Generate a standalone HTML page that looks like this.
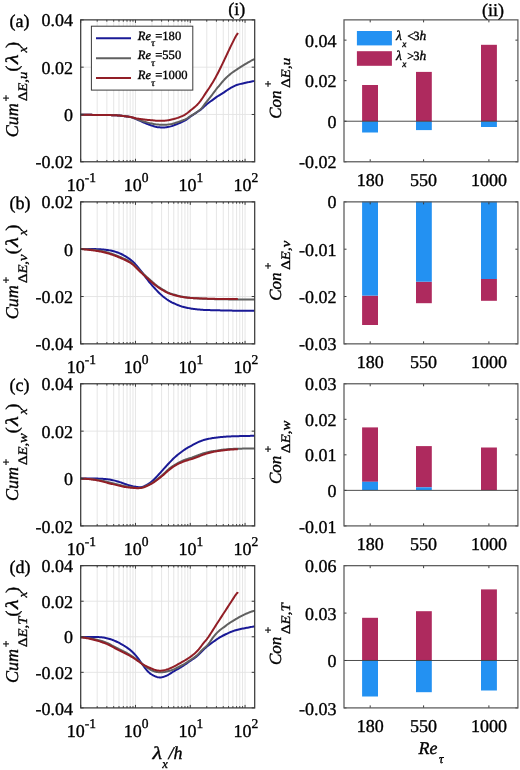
<!DOCTYPE html>
<html><head><meta charset="utf-8"><style>
html,body{margin:0;padding:0;background:#fff;}
body{width:520px;height:770px;overflow:hidden;}
svg{display:block;}
text{font-family:'Liberation Serif', 'Times New Roman', serif;stroke:#000;stroke-width:0.35px;text-rendering:geometricPrecision;}
</style></head><body>
<svg width="520" height="770" viewBox="0 0 520 770" font-family="'Liberation Serif', 'Times New Roman', serif" fill="#000">
<rect width="520" height="770" fill="#fff"/>
<path d="M97.19,19.87V161.77 M106.84,19.87V161.77 M113.68,19.87V161.77 M118.99,19.87V161.77 M123.33,19.87V161.77 M127.00,19.87V161.77 M130.18,19.87V161.77 M132.98,19.87V161.77 M135.48,19.87V161.77 M151.98,19.87V161.77 M161.62,19.87V161.77 M168.47,19.87V161.77 M173.78,19.87V161.77 M178.11,19.87V161.77 M181.78,19.87V161.77 M184.96,19.87V161.77 M187.76,19.87V161.77 M190.27,19.87V161.77 M206.76,19.87V161.77 M216.41,19.87V161.77 M223.25,19.87V161.77 M228.56,19.87V161.77 M232.90,19.87V161.77 M236.57,19.87V161.77 M239.74,19.87V161.77 M242.55,19.87V161.77 M245.05,19.87V161.77 M80.70,114.47H254.70 M80.70,67.17H254.70" stroke="#e3e3e3" stroke-width="0.9" fill="none"/>
<path d="M80.70,114.80 L81.70,114.81 L82.70,114.81 L83.70,114.81 L84.70,114.82 L85.70,114.83 L86.70,114.83 L87.70,114.84 L88.70,114.85 L89.70,114.86 L90.70,114.86 L91.70,114.87 L92.70,114.88 L93.70,114.89 L94.70,114.90 L95.70,114.91 L96.70,114.93 L97.70,114.94 L98.70,114.95 L99.70,114.96 L100.70,114.97 L101.70,114.98 L102.70,115.00 L103.70,115.01 L104.70,115.02 L105.70,115.03 L106.70,115.05 L107.70,115.06 L108.70,115.07 L109.70,115.09 L110.70,115.11 L111.70,115.13 L112.70,115.15 L113.70,115.18 L114.70,115.22 L115.70,115.26 L116.70,115.31 L117.70,115.38 L118.70,115.46 L119.70,115.55 L120.70,115.65 L121.70,115.76 L122.70,115.89 L123.70,116.03 L124.70,116.17 L125.70,116.32 L126.70,116.46 L127.70,116.60 L128.70,116.75 L129.70,116.91 L130.70,117.10 L131.70,117.35 L132.70,117.66 L133.70,118.04 L134.70,118.46 L135.70,118.91 L136.70,119.35 L137.70,119.80 L138.70,120.25 L139.70,120.70 L140.70,121.15 L141.70,121.60 L142.70,122.05 L143.70,122.50 L144.70,122.93 L145.70,123.36 L146.70,123.76 L147.70,124.16 L148.70,124.54 L149.70,124.91 L150.70,125.26 L151.70,125.60 L152.70,125.92 L153.70,126.24 L154.70,126.54 L155.70,126.81 L156.70,127.03 L157.70,127.19 L158.70,127.30 L159.70,127.37 L160.70,127.42 L161.70,127.45 L162.70,127.47 L163.70,127.46 L164.70,127.41 L165.70,127.33 L166.70,127.20 L167.70,127.04 L168.70,126.86 L169.70,126.64 L170.70,126.39 L171.70,126.10 L172.70,125.78 L173.70,125.43 L174.70,125.06 L175.70,124.67 L176.70,124.27 L177.70,123.86 L178.70,123.43 L179.70,122.98 L180.70,122.53 L181.70,122.07 L182.70,121.60 L183.70,121.12 L184.70,120.61 L185.70,120.04 L186.70,119.39 L187.70,118.65 L188.70,117.86 L189.70,117.06 L190.70,116.33 L191.70,115.67 L192.70,115.04 L193.70,114.42 L194.70,113.77 L195.70,113.09 L196.70,112.41 L197.70,111.72 L198.70,111.04 L199.70,110.35 L200.70,109.61 L201.70,108.82 L202.70,107.95 L203.70,107.03 L204.70,106.10 L205.70,105.20 L206.70,104.33 L207.70,103.51 L208.70,102.72 L209.70,101.98 L210.70,101.26 L211.70,100.56 L212.70,99.84 L213.70,99.11 L214.70,98.36 L215.70,97.62 L216.70,96.91 L217.70,96.25 L218.70,95.63 L219.70,95.03 L220.70,94.44 L221.70,93.83 L222.70,93.21 L223.70,92.56 L224.70,91.89 L225.70,91.19 L226.70,90.48 L227.70,89.79 L228.70,89.15 L229.70,88.55 L230.70,87.99 L231.70,87.46 L232.70,86.94 L233.70,86.43 L234.70,85.93 L235.70,85.45 L236.70,85.03 L237.70,84.68 L238.70,84.37 L239.70,84.11 L240.70,83.87 L241.70,83.65 L242.70,83.43 L243.70,83.22 L244.70,83.00 L245.70,82.78 L246.70,82.56 L247.70,82.34 L248.70,82.12 L249.70,81.91 L250.70,81.70 L251.70,81.49 L252.70,81.30 L253.70,81.13 L254.60,81.01" fill="none" stroke="#1a1a96" stroke-width="2.0" stroke-linejoin="round" stroke-linecap="butt"/>
<path d="M80.70,114.80 L81.70,114.81 L82.70,114.81 L83.70,114.81 L84.70,114.82 L85.70,114.83 L86.70,114.83 L87.70,114.84 L88.70,114.85 L89.70,114.86 L90.70,114.86 L91.70,114.87 L92.70,114.88 L93.70,114.89 L94.70,114.90 L95.70,114.91 L96.70,114.93 L97.70,114.94 L98.70,114.95 L99.70,114.96 L100.70,114.97 L101.70,114.98 L102.70,115.00 L103.70,115.01 L104.70,115.02 L105.70,115.03 L106.70,115.05 L107.70,115.06 L108.70,115.07 L109.70,115.09 L110.70,115.11 L111.70,115.13 L112.70,115.15 L113.70,115.18 L114.70,115.22 L115.70,115.26 L116.70,115.31 L117.70,115.38 L118.70,115.46 L119.70,115.55 L120.70,115.65 L121.70,115.76 L122.70,115.89 L123.70,116.03 L124.70,116.17 L125.70,116.32 L126.70,116.46 L127.70,116.61 L128.70,116.75 L129.70,116.91 L130.70,117.10 L131.70,117.34 L132.70,117.63 L133.70,117.98 L134.70,118.36 L135.70,118.75 L136.70,119.13 L137.70,119.50 L138.70,119.86 L139.70,120.21 L140.70,120.55 L141.70,120.88 L142.70,121.19 L143.70,121.50 L144.70,121.79 L145.70,122.07 L146.70,122.35 L147.70,122.61 L148.70,122.87 L149.70,123.11 L150.70,123.35 L151.70,123.56 L152.70,123.77 L153.70,123.96 L154.70,124.14 L155.70,124.30 L156.70,124.43 L157.70,124.54 L158.70,124.62 L159.70,124.67 L160.70,124.72 L161.70,124.75 L162.70,124.77 L163.70,124.78 L164.70,124.76 L165.70,124.72 L166.70,124.66 L167.70,124.58 L168.70,124.47 L169.70,124.34 L170.70,124.17 L171.70,123.95 L172.70,123.69 L173.70,123.41 L174.70,123.11 L175.70,122.81 L176.70,122.50 L177.70,122.19 L178.70,121.86 L179.70,121.52 L180.70,121.17 L181.70,120.81 L182.70,120.43 L183.70,120.03 L184.70,119.61 L185.70,119.14 L186.70,118.60 L187.70,118.00 L188.70,117.34 L189.70,116.67 L190.70,116.03 L191.70,115.42 L192.70,114.82 L193.70,114.21 L194.70,113.57 L195.70,112.90 L196.70,112.21 L197.70,111.50 L198.70,110.78 L199.70,110.01 L200.70,109.14 L201.70,108.11 L202.70,106.91 L203.70,105.57 L204.70,104.19 L205.70,102.83 L206.70,101.54 L207.70,100.31 L208.70,99.08 L209.70,97.84 L210.70,96.58 L211.70,95.30 L212.70,94.00 L213.70,92.67 L214.70,91.34 L215.70,90.02 L216.70,88.72 L217.70,87.48 L218.70,86.27 L219.70,85.08 L220.70,83.89 L221.70,82.69 L222.70,81.51 L223.70,80.38 L224.70,79.30 L225.70,78.27 L226.70,77.30 L227.70,76.36 L228.70,75.47 L229.70,74.62 L230.70,73.81 L231.70,73.04 L232.70,72.30 L233.70,71.60 L234.70,70.91 L235.70,70.24 L236.70,69.57 L237.70,68.90 L238.70,68.24 L239.70,67.59 L240.70,66.95 L241.70,66.31 L242.70,65.69 L243.70,65.07 L244.70,64.47 L245.70,63.87 L246.70,63.28 L247.70,62.70 L248.70,62.13 L249.70,61.56 L250.70,61.00 L251.70,60.46 L252.70,59.95 L253.70,59.51 L254.60,59.19" fill="none" stroke="#606060" stroke-width="2.0" stroke-linejoin="round" stroke-linecap="butt"/>
<path d="M80.70,114.80 L81.70,114.81 L82.70,114.81 L83.70,114.81 L84.70,114.82 L85.70,114.83 L86.70,114.83 L87.70,114.84 L88.70,114.85 L89.70,114.86 L90.70,114.86 L91.70,114.87 L92.70,114.88 L93.70,114.89 L94.70,114.90 L95.70,114.91 L96.70,114.93 L97.70,114.94 L98.70,114.95 L99.70,114.96 L100.70,114.97 L101.70,114.98 L102.70,115.00 L103.70,115.01 L104.70,115.02 L105.70,115.03 L106.70,115.05 L107.70,115.06 L108.70,115.07 L109.70,115.09 L110.70,115.11 L111.70,115.13 L112.70,115.15 L113.70,115.18 L114.70,115.22 L115.70,115.26 L116.70,115.31 L117.70,115.38 L118.70,115.46 L119.70,115.55 L120.70,115.65 L121.70,115.76 L122.70,115.89 L123.70,116.03 L124.70,116.18 L125.70,116.32 L126.70,116.46 L127.70,116.59 L128.70,116.72 L129.70,116.86 L130.70,117.03 L131.70,117.22 L132.70,117.46 L133.70,117.71 L134.70,117.97 L135.70,118.21 L136.70,118.42 L137.70,118.61 L138.70,118.77 L139.70,118.93 L140.70,119.08 L141.70,119.22 L142.70,119.35 L143.70,119.48 L144.70,119.60 L145.70,119.71 L146.70,119.81 L147.70,119.91 L148.70,120.00 L149.70,120.08 L150.70,120.17 L151.70,120.26 L152.70,120.35 L153.70,120.45 L154.70,120.55 L155.70,120.64 L156.70,120.71 L157.70,120.76 L158.70,120.79 L159.70,120.80 L160.70,120.80 L161.70,120.80 L162.70,120.79 L163.70,120.77 L164.70,120.71 L165.70,120.62 L166.70,120.49 L167.70,120.34 L168.70,120.16 L169.70,119.97 L170.70,119.77 L171.70,119.55 L172.70,119.31 L173.70,119.06 L174.70,118.78 L175.70,118.49 L176.70,118.17 L177.70,117.84 L178.70,117.48 L179.70,117.09 L180.70,116.69 L181.70,116.26 L182.70,115.80 L183.70,115.31 L184.70,114.77 L185.70,114.18 L186.70,113.52 L187.70,112.77 L188.70,111.95 L189.70,111.11 L190.70,110.28 L191.70,109.47 L192.70,108.66 L193.70,107.85 L194.70,107.01 L195.70,106.13 L196.70,105.20 L197.70,104.19 L198.70,103.08 L199.70,101.88 L200.70,100.59 L201.70,99.20 L202.70,97.72 L203.70,96.19 L204.70,94.64 L205.70,93.12 L206.70,91.64 L207.70,90.17 L208.70,88.69 L209.70,87.19 L210.70,85.64 L211.70,84.05 L212.70,82.41 L213.70,80.72 L214.70,78.97 L215.70,77.17 L216.70,75.32 L217.70,73.42 L218.70,71.47 L219.70,69.48 L220.70,67.46 L221.70,65.42 L222.70,63.35 L223.70,61.26 L224.70,59.16 L225.70,57.03 L226.70,54.88 L227.70,52.73 L228.70,50.60 L229.70,48.50 L230.70,46.42 L231.70,44.38 L232.70,42.36 L233.70,40.36 L234.70,38.40 L235.70,36.51 L236.70,34.81 L237.70,33.46 L238.00,32.97" fill="none" stroke="#921e26" stroke-width="2.0" stroke-linejoin="round" stroke-linecap="butt"/>
<path d="M80.70,161.77v-3.0 M80.70,19.87v3.0 M97.19,161.77v-1.8 M97.19,19.87v1.8 M106.84,161.77v-1.8 M106.84,19.87v1.8 M113.68,161.77v-1.8 M113.68,19.87v1.8 M118.99,161.77v-1.8 M118.99,19.87v1.8 M123.33,161.77v-1.8 M123.33,19.87v1.8 M127.00,161.77v-1.8 M127.00,19.87v1.8 M130.18,161.77v-1.8 M130.18,19.87v1.8 M132.98,161.77v-1.8 M132.98,19.87v1.8 M135.48,161.77v-3.0 M135.48,19.87v3.0 M151.98,161.77v-1.8 M151.98,19.87v1.8 M161.62,161.77v-1.8 M161.62,19.87v1.8 M168.47,161.77v-1.8 M168.47,19.87v1.8 M173.78,161.77v-1.8 M173.78,19.87v1.8 M178.11,161.77v-1.8 M178.11,19.87v1.8 M181.78,161.77v-1.8 M181.78,19.87v1.8 M184.96,161.77v-1.8 M184.96,19.87v1.8 M187.76,161.77v-1.8 M187.76,19.87v1.8 M190.27,161.77v-3.0 M190.27,19.87v3.0 M206.76,161.77v-1.8 M206.76,19.87v1.8 M216.41,161.77v-1.8 M216.41,19.87v1.8 M223.25,161.77v-1.8 M223.25,19.87v1.8 M228.56,161.77v-1.8 M228.56,19.87v1.8 M232.90,161.77v-1.8 M232.90,19.87v1.8 M236.57,161.77v-1.8 M236.57,19.87v1.8 M239.74,161.77v-1.8 M239.74,19.87v1.8 M242.55,161.77v-1.8 M242.55,19.87v1.8 M245.05,161.77v-3.0 M245.05,19.87v3.0 M80.70,161.77h3 M254.70,161.77h-3 M80.70,114.47h3 M254.70,114.47h-3 M80.70,67.17h3 M254.70,67.17h-3 M80.70,19.87h3 M254.70,19.87h-3" stroke="#3a3a3a" stroke-width="1" fill="none"/>
<rect x="80.70" y="19.87" width="174.00" height="141.90" fill="none" stroke="#3a3a3a" stroke-width="1.25"/>
<text x="73.00" y="168.37" font-size="18.0" text-anchor="end">-0.02</text>
<text x="73.00" y="121.07" font-size="18.0" text-anchor="end">0</text>
<text x="73.00" y="73.77" font-size="18.0" text-anchor="end">0.02</text>
<text x="73.00" y="26.47" font-size="18.0" text-anchor="end">0.04</text>
<text x="66.78" y="190.57" font-size="18.0" text-anchor="start">10</text>
<text x="84.78" y="181.97" font-size="13.5" text-anchor="start">-1</text>
<text x="123.81" y="190.57" font-size="18.0" text-anchor="start">10</text>
<text x="141.81" y="181.97" font-size="13.5" text-anchor="start">0</text>
<text x="178.59" y="190.57" font-size="18.0" text-anchor="start">10</text>
<text x="196.59" y="181.97" font-size="13.5" text-anchor="start">1</text>
<text x="233.38" y="190.57" font-size="18.0" text-anchor="start">10</text>
<text x="251.38" y="181.97" font-size="13.5" text-anchor="start">2</text>
<rect x="362.10" y="85.00" width="15.90" height="36.50" fill="#ae2a5e"/>
<rect x="362.10" y="121.50" width="15.90" height="11.00" fill="#2391f2"/>
<rect x="416.00" y="71.90" width="15.80" height="49.60" fill="#ae2a5e"/>
<rect x="416.00" y="121.50" width="15.80" height="8.60" fill="#2391f2"/>
<rect x="481.00" y="44.80" width="15.90" height="76.70" fill="#ae2a5e"/>
<rect x="481.00" y="121.50" width="15.90" height="5.50" fill="#2391f2"/>
<path d="M344.00,121.23H517.90" stroke="#3a3a3a" stroke-width="0.9"/>
<path d="M370.20,161.77v-2.5 M370.20,19.87v2.5 M423.60,161.77v-2.5 M423.60,19.87v2.5 M488.90,161.77v-2.5 M488.90,19.87v2.5 M344.00,161.77h2.5 M517.90,161.77h-2.5 M344.00,121.23h2.5 M517.90,121.23h-2.5 M344.00,80.68h2.5 M517.90,80.68h-2.5 M344.00,40.14h2.5 M517.90,40.14h-2.5" stroke="#3a3a3a" stroke-width="1" fill="none"/>
<rect x="344.00" y="19.87" width="173.90" height="141.90" fill="none" stroke="#5a5a5a" stroke-width="1.25"/>
<text x="336.60" y="168.37" font-size="18.0" text-anchor="end">-0.02</text>
<text x="336.60" y="127.83" font-size="18.0" text-anchor="end">0</text>
<text x="336.60" y="87.28" font-size="18.0" text-anchor="end">0.02</text>
<text x="336.60" y="46.74" font-size="18.0" text-anchor="end">0.04</text>
<text x="370.20" y="185.77" font-size="18.0" text-anchor="middle">180</text>
<text x="423.60" y="185.77" font-size="18.0" text-anchor="middle">550</text>
<text x="488.90" y="185.77" font-size="18.0" text-anchor="middle">1000</text>
<path d="M97.19,201.87V343.85 M106.84,201.87V343.85 M113.68,201.87V343.85 M118.99,201.87V343.85 M123.33,201.87V343.85 M127.00,201.87V343.85 M130.18,201.87V343.85 M132.98,201.87V343.85 M135.48,201.87V343.85 M151.98,201.87V343.85 M161.62,201.87V343.85 M168.47,201.87V343.85 M173.78,201.87V343.85 M178.11,201.87V343.85 M181.78,201.87V343.85 M184.96,201.87V343.85 M187.76,201.87V343.85 M190.27,201.87V343.85 M206.76,201.87V343.85 M216.41,201.87V343.85 M223.25,201.87V343.85 M228.56,201.87V343.85 M232.90,201.87V343.85 M236.57,201.87V343.85 M239.74,201.87V343.85 M242.55,201.87V343.85 M245.05,201.87V343.85 M80.70,296.52H254.70 M80.70,249.20H254.70" stroke="#e3e3e3" stroke-width="0.9" fill="none"/>
<path d="M80.70,249.00 L81.70,249.00 L82.70,249.00 L83.70,249.00 L84.70,249.00 L85.70,249.00 L86.70,249.00 L87.70,249.00 L88.70,249.00 L89.70,249.00 L90.70,249.00 L91.70,249.01 L92.70,249.02 L93.70,249.03 L94.70,249.06 L95.70,249.09 L96.70,249.13 L97.70,249.18 L98.70,249.23 L99.70,249.29 L100.70,249.35 L101.70,249.41 L102.70,249.48 L103.70,249.56 L104.70,249.66 L105.70,249.77 L106.70,249.90 L107.70,250.04 L108.70,250.20 L109.70,250.38 L110.70,250.57 L111.70,250.79 L112.70,251.02 L113.70,251.28 L114.70,251.56 L115.70,251.86 L116.70,252.19 L117.70,252.54 L118.70,252.92 L119.70,253.33 L120.70,253.77 L121.70,254.24 L122.70,254.74 L123.70,255.27 L124.70,255.83 L125.70,256.43 L126.70,257.05 L127.70,257.70 L128.70,258.39 L129.70,259.11 L130.70,259.88 L131.70,260.70 L132.70,261.59 L133.70,262.53 L134.70,263.54 L135.70,264.60 L136.70,265.70 L137.70,266.85 L138.70,268.04 L139.70,269.26 L140.70,270.53 L141.70,271.85 L142.70,273.21 L143.70,274.60 L144.70,276.00 L145.70,277.37 L146.70,278.71 L147.70,280.00 L148.70,281.26 L149.70,282.50 L150.70,283.70 L151.70,284.88 L152.70,286.04 L153.70,287.17 L154.70,288.29 L155.70,289.38 L156.70,290.43 L157.70,291.46 L158.70,292.46 L159.70,293.43 L160.70,294.37 L161.70,295.28 L162.70,296.15 L163.70,296.98 L164.70,297.78 L165.70,298.54 L166.70,299.27 L167.70,299.96 L168.70,300.60 L169.70,301.20 L170.70,301.76 L171.70,302.28 L172.70,302.77 L173.70,303.23 L174.70,303.68 L175.70,304.12 L176.70,304.55 L177.70,304.97 L178.70,305.37 L179.70,305.75 L180.70,306.10 L181.70,306.43 L182.70,306.73 L183.70,307.01 L184.70,307.27 L185.70,307.51 L186.70,307.74 L187.70,307.95 L188.70,308.14 L189.70,308.32 L190.70,308.49 L191.70,308.65 L192.70,308.79 L193.70,308.93 L194.70,309.06 L195.70,309.18 L196.70,309.30 L197.70,309.41 L198.70,309.52 L199.70,309.61 L200.70,309.70 L201.70,309.78 L202.70,309.84 L203.70,309.90 L204.70,309.95 L205.70,309.99 L206.70,310.03 L207.70,310.06 L208.70,310.09 L209.70,310.12 L210.70,310.15 L211.70,310.17 L212.70,310.20 L213.70,310.22 L214.70,310.25 L215.70,310.27 L216.70,310.30 L217.70,310.32 L218.70,310.35 L219.70,310.37 L220.70,310.40 L221.70,310.42 L222.70,310.45 L223.70,310.47 L224.70,310.49 L225.70,310.52 L226.70,310.54 L227.70,310.56 L228.70,310.57 L229.70,310.59 L230.70,310.60 L231.70,310.62 L232.70,310.63 L233.70,310.64 L234.70,310.65 L235.70,310.67 L236.70,310.68 L237.70,310.69 L238.70,310.70 L239.70,310.71 L240.70,310.72 L241.70,310.73 L242.70,310.74 L243.70,310.75 L244.70,310.76 L245.70,310.76 L246.70,310.77 L247.70,310.78 L248.70,310.78 L249.70,310.79 L250.70,310.79 L251.70,310.79 L252.70,310.80 L253.70,310.80 L254.60,310.80" fill="none" stroke="#1a1a96" stroke-width="2.0" stroke-linejoin="round" stroke-linecap="butt"/>
<path d="M80.70,249.00 L81.70,249.03 L82.70,249.06 L83.70,249.10 L84.70,249.14 L85.70,249.19 L86.70,249.25 L87.70,249.32 L88.70,249.39 L89.70,249.46 L90.70,249.54 L91.70,249.63 L92.70,249.73 L93.70,249.83 L94.70,249.95 L95.70,250.08 L96.70,250.22 L97.70,250.37 L98.70,250.52 L99.70,250.68 L100.70,250.85 L101.70,251.04 L102.70,251.24 L103.70,251.45 L104.70,251.69 L105.70,251.94 L106.70,252.21 L107.70,252.49 L108.70,252.79 L109.70,253.10 L110.70,253.42 L111.70,253.76 L112.70,254.11 L113.70,254.48 L114.70,254.85 L115.70,255.22 L116.70,255.61 L117.70,256.00 L118.70,256.40 L119.70,256.82 L120.70,257.23 L121.70,257.66 L122.70,258.09 L123.70,258.54 L124.70,259.00 L125.70,259.47 L126.70,259.96 L127.70,260.47 L128.70,261.00 L129.70,261.57 L130.70,262.18 L131.70,262.87 L132.70,263.65 L133.70,264.51 L134.70,265.44 L135.70,266.40 L136.70,267.39 L137.70,268.39 L138.70,269.40 L139.70,270.39 L140.70,271.37 L141.70,272.32 L142.70,273.25 L143.70,274.17 L144.70,275.08 L145.70,275.98 L146.70,276.89 L147.70,277.79 L148.70,278.70 L149.70,279.60 L150.70,280.49 L151.70,281.37 L152.70,282.23 L153.70,283.08 L154.70,283.92 L155.70,284.73 L156.70,285.51 L157.70,286.27 L158.70,286.98 L159.70,287.66 L160.70,288.31 L161.70,288.94 L162.70,289.54 L163.70,290.13 L164.70,290.70 L165.70,291.26 L166.70,291.80 L167.70,292.30 L168.70,292.77 L169.70,293.19 L170.70,293.56 L171.70,293.90 L172.70,294.22 L173.70,294.51 L174.70,294.80 L175.70,295.08 L176.70,295.36 L177.70,295.63 L178.70,295.89 L179.70,296.14 L180.70,296.37 L181.70,296.59 L182.70,296.79 L183.70,296.98 L184.70,297.15 L185.70,297.31 L186.70,297.46 L187.70,297.59 L188.70,297.71 L189.70,297.82 L190.70,297.92 L191.70,298.01 L192.70,298.09 L193.70,298.17 L194.70,298.23 L195.70,298.30 L196.70,298.36 L197.70,298.42 L198.70,298.47 L199.70,298.52 L200.70,298.57 L201.70,298.62 L202.70,298.66 L203.70,298.71 L204.70,298.75 L205.70,298.80 L206.70,298.84 L207.70,298.89 L208.70,298.93 L209.70,298.97 L210.70,299.01 L211.70,299.04 L212.70,299.08 L213.70,299.11 L214.70,299.14 L215.70,299.17 L216.70,299.19 L217.70,299.21 L218.70,299.23 L219.70,299.25 L220.70,299.27 L221.70,299.29 L222.70,299.30 L223.70,299.32 L224.70,299.33 L225.70,299.34 L226.70,299.36 L227.70,299.37 L228.70,299.38 L229.70,299.39 L230.70,299.40 L231.70,299.41 L232.70,299.42 L233.70,299.44 L234.70,299.45 L235.70,299.46 L236.70,299.47 L237.70,299.48 L238.70,299.49 L239.70,299.50 L240.70,299.50 L241.70,299.51 L242.70,299.52 L243.70,299.53 L244.70,299.54 L245.70,299.55 L246.70,299.55 L247.70,299.56 L248.70,299.57 L249.70,299.57 L250.70,299.58 L251.70,299.59 L252.70,299.59 L253.70,299.59 L254.60,299.60" fill="none" stroke="#606060" stroke-width="2.0" stroke-linejoin="round" stroke-linecap="butt"/>
<path d="M80.70,249.00 L81.70,249.12 L82.70,249.20 L83.70,249.30 L84.70,249.41 L85.70,249.52 L86.70,249.63 L87.70,249.74 L88.70,249.86 L89.70,249.98 L90.70,250.10 L91.70,250.23 L92.70,250.36 L93.70,250.49 L94.70,250.62 L95.70,250.77 L96.70,250.92 L97.70,251.08 L98.70,251.24 L99.70,251.42 L100.70,251.61 L101.70,251.81 L102.70,252.03 L103.70,252.25 L104.70,252.49 L105.70,252.74 L106.70,253.01 L107.70,253.29 L108.70,253.59 L109.70,253.90 L110.70,254.22 L111.70,254.56 L112.70,254.91 L113.70,255.28 L114.70,255.65 L115.70,256.02 L116.70,256.41 L117.70,256.80 L118.70,257.20 L119.70,257.62 L120.70,258.03 L121.70,258.46 L122.70,258.89 L123.70,259.34 L124.70,259.80 L125.70,260.27 L126.70,260.76 L127.70,261.27 L128.70,261.80 L129.70,262.37 L130.70,262.98 L131.70,263.67 L132.70,264.45 L133.70,265.31 L134.70,266.24 L135.70,267.20 L136.70,268.19 L137.70,269.19 L138.70,270.20 L139.70,271.19 L140.70,272.17 L141.70,273.12 L142.70,274.05 L143.70,274.97 L144.70,275.88 L145.70,276.78 L146.70,277.69 L147.70,278.59 L148.70,279.50 L149.70,280.40 L150.70,281.29 L151.70,282.17 L152.70,283.02 L153.70,283.86 L154.70,284.68 L155.70,285.47 L156.70,286.24 L157.70,286.97 L158.70,287.67 L159.70,288.33 L160.70,288.97 L161.70,289.58 L162.70,290.16 L163.70,290.73 L164.70,291.29 L165.70,291.83 L166.70,292.35 L167.70,292.83 L168.70,293.28 L169.70,293.68 L170.70,294.04 L171.70,294.37 L172.70,294.66 L173.70,294.94 L174.70,295.21 L175.70,295.48 L176.70,295.74 L177.70,296.00 L178.70,296.24 L179.70,296.47 L180.70,296.68 L181.70,296.87 L182.70,297.03 L183.70,297.19 L184.70,297.32 L185.70,297.45 L186.70,297.57 L187.70,297.68 L188.70,297.78 L189.70,297.87 L190.70,297.95 L191.70,298.03 L192.70,298.09 L193.70,298.14 L194.70,298.19 L195.70,298.24 L196.70,298.28 L197.70,298.31 L198.70,298.35 L199.70,298.38 L200.70,298.41 L201.70,298.44 L202.70,298.48 L203.70,298.51 L204.70,298.54 L205.70,298.58 L206.70,298.61 L207.70,298.65 L208.70,298.68 L209.70,298.72 L210.70,298.75 L211.70,298.78 L212.70,298.81 L213.70,298.84 L214.70,298.86 L215.70,298.88 L216.70,298.89 L217.70,298.91 L218.70,298.92 L219.70,298.93 L220.70,298.94 L221.70,298.95 L222.70,298.96 L223.70,298.97 L224.70,298.98 L225.70,298.98 L226.70,298.99 L227.70,298.99 L228.70,299.00 L229.70,299.00 L230.70,299.00 L231.70,299.00 L232.70,299.00 L233.70,299.00 L234.70,299.00 L235.70,299.00 L236.70,299.00 L237.70,299.00 L237.80,299.00" fill="none" stroke="#921e26" stroke-width="2.0" stroke-linejoin="round" stroke-linecap="butt"/>
<path d="M80.70,343.85v-3.0 M80.70,201.87v3.0 M97.19,343.85v-1.8 M97.19,201.87v1.8 M106.84,343.85v-1.8 M106.84,201.87v1.8 M113.68,343.85v-1.8 M113.68,201.87v1.8 M118.99,343.85v-1.8 M118.99,201.87v1.8 M123.33,343.85v-1.8 M123.33,201.87v1.8 M127.00,343.85v-1.8 M127.00,201.87v1.8 M130.18,343.85v-1.8 M130.18,201.87v1.8 M132.98,343.85v-1.8 M132.98,201.87v1.8 M135.48,343.85v-3.0 M135.48,201.87v3.0 M151.98,343.85v-1.8 M151.98,201.87v1.8 M161.62,343.85v-1.8 M161.62,201.87v1.8 M168.47,343.85v-1.8 M168.47,201.87v1.8 M173.78,343.85v-1.8 M173.78,201.87v1.8 M178.11,343.85v-1.8 M178.11,201.87v1.8 M181.78,343.85v-1.8 M181.78,201.87v1.8 M184.96,343.85v-1.8 M184.96,201.87v1.8 M187.76,343.85v-1.8 M187.76,201.87v1.8 M190.27,343.85v-3.0 M190.27,201.87v3.0 M206.76,343.85v-1.8 M206.76,201.87v1.8 M216.41,343.85v-1.8 M216.41,201.87v1.8 M223.25,343.85v-1.8 M223.25,201.87v1.8 M228.56,343.85v-1.8 M228.56,201.87v1.8 M232.90,343.85v-1.8 M232.90,201.87v1.8 M236.57,343.85v-1.8 M236.57,201.87v1.8 M239.74,343.85v-1.8 M239.74,201.87v1.8 M242.55,343.85v-1.8 M242.55,201.87v1.8 M245.05,343.85v-3.0 M245.05,201.87v3.0 M80.70,343.85h3 M254.70,343.85h-3 M80.70,296.52h3 M254.70,296.52h-3 M80.70,249.20h3 M254.70,249.20h-3 M80.70,201.87h3 M254.70,201.87h-3" stroke="#3a3a3a" stroke-width="1" fill="none"/>
<rect x="80.70" y="201.87" width="174.00" height="141.98" fill="none" stroke="#3a3a3a" stroke-width="1.25"/>
<text x="73.00" y="350.45" font-size="18.0" text-anchor="end">-0.04</text>
<text x="73.00" y="303.12" font-size="18.0" text-anchor="end">-0.02</text>
<text x="73.00" y="255.80" font-size="18.0" text-anchor="end">0</text>
<text x="73.00" y="208.47" font-size="18.0" text-anchor="end">0.02</text>
<text x="66.78" y="372.65" font-size="18.0" text-anchor="start">10</text>
<text x="84.78" y="364.05" font-size="13.5" text-anchor="start">-1</text>
<text x="123.81" y="372.65" font-size="18.0" text-anchor="start">10</text>
<text x="141.81" y="364.05" font-size="13.5" text-anchor="start">0</text>
<text x="178.59" y="372.65" font-size="18.0" text-anchor="start">10</text>
<text x="196.59" y="364.05" font-size="13.5" text-anchor="start">1</text>
<text x="233.38" y="372.65" font-size="18.0" text-anchor="start">10</text>
<text x="251.38" y="364.05" font-size="13.5" text-anchor="start">2</text>
<rect x="362.10" y="295.60" width="15.90" height="29.40" fill="#ae2a5e"/>
<rect x="362.10" y="201.50" width="15.90" height="94.10" fill="#2391f2"/>
<rect x="416.00" y="281.70" width="15.80" height="21.50" fill="#ae2a5e"/>
<rect x="416.00" y="201.50" width="15.80" height="80.20" fill="#2391f2"/>
<rect x="481.00" y="279.00" width="15.90" height="21.80" fill="#ae2a5e"/>
<rect x="481.00" y="201.50" width="15.90" height="77.50" fill="#2391f2"/>
<path d="M370.20,343.85v-2.5 M370.20,201.87v2.5 M423.60,343.85v-2.5 M423.60,201.87v2.5 M488.90,343.85v-2.5 M488.90,201.87v2.5 M344.00,343.85h2.5 M517.90,343.85h-2.5 M344.00,296.52h2.5 M517.90,296.52h-2.5 M344.00,249.20h2.5 M517.90,249.20h-2.5 M344.00,201.87h2.5 M517.90,201.87h-2.5" stroke="#3a3a3a" stroke-width="1" fill="none"/>
<rect x="344.00" y="201.87" width="173.90" height="141.98" fill="none" stroke="#5a5a5a" stroke-width="1.25"/>
<text x="336.60" y="350.45" font-size="18.0" text-anchor="end">-0.03</text>
<text x="336.60" y="303.12" font-size="18.0" text-anchor="end">-0.02</text>
<text x="336.60" y="255.80" font-size="18.0" text-anchor="end">-0.01</text>
<text x="336.60" y="208.47" font-size="18.0" text-anchor="end">0</text>
<text x="370.20" y="367.85" font-size="18.0" text-anchor="middle">180</text>
<text x="423.60" y="367.85" font-size="18.0" text-anchor="middle">550</text>
<text x="488.90" y="367.85" font-size="18.0" text-anchor="middle">1000</text>
<path d="M97.19,383.77V525.90 M106.84,383.77V525.90 M113.68,383.77V525.90 M118.99,383.77V525.90 M123.33,383.77V525.90 M127.00,383.77V525.90 M130.18,383.77V525.90 M132.98,383.77V525.90 M135.48,383.77V525.90 M151.98,383.77V525.90 M161.62,383.77V525.90 M168.47,383.77V525.90 M173.78,383.77V525.90 M178.11,383.77V525.90 M181.78,383.77V525.90 M184.96,383.77V525.90 M187.76,383.77V525.90 M190.27,383.77V525.90 M206.76,383.77V525.90 M216.41,383.77V525.90 M223.25,383.77V525.90 M228.56,383.77V525.90 M232.90,383.77V525.90 M236.57,383.77V525.90 M239.74,383.77V525.90 M242.55,383.77V525.90 M245.05,383.77V525.90 M80.70,478.52H254.70 M80.70,431.15H254.70" stroke="#e3e3e3" stroke-width="0.9" fill="none"/>
<path d="M80.70,478.60 L81.70,478.60 L82.70,478.60 L83.70,478.60 L84.70,478.60 L85.70,478.60 L86.70,478.60 L87.70,478.60 L88.70,478.60 L89.70,478.60 L90.70,478.60 L91.70,478.60 L92.70,478.60 L93.70,478.60 L94.70,478.60 L95.70,478.60 L96.70,478.60 L97.70,478.61 L98.70,478.63 L99.70,478.66 L100.70,478.70 L101.70,478.76 L102.70,478.83 L103.70,478.90 L104.70,478.99 L105.70,479.08 L106.70,479.18 L107.70,479.29 L108.70,479.41 L109.70,479.56 L110.70,479.73 L111.70,479.93 L112.70,480.15 L113.70,480.39 L114.70,480.64 L115.70,480.90 L116.70,481.18 L117.70,481.47 L118.70,481.77 L119.70,482.09 L120.70,482.42 L121.70,482.77 L122.70,483.13 L123.70,483.50 L124.70,483.86 L125.70,484.21 L126.70,484.54 L127.70,484.84 L128.70,485.14 L129.70,485.42 L130.70,485.68 L131.70,485.94 L132.70,486.19 L133.70,486.41 L134.70,486.61 L135.70,486.78 L136.70,486.93 L137.70,487.05 L138.70,487.15 L139.70,487.20 L140.70,487.17 L141.70,487.03 L142.70,486.77 L143.70,486.39 L144.70,485.93 L145.70,485.41 L146.70,484.86 L147.70,484.27 L148.70,483.64 L149.70,482.95 L150.70,482.22 L151.70,481.43 L152.70,480.59 L153.70,479.69 L154.70,478.73 L155.70,477.72 L156.70,476.68 L157.70,475.61 L158.70,474.53 L159.70,473.43 L160.70,472.31 L161.70,471.18 L162.70,470.05 L163.70,468.93 L164.70,467.81 L165.70,466.71 L166.70,465.62 L167.70,464.53 L168.70,463.46 L169.70,462.41 L170.70,461.36 L171.70,460.33 L172.70,459.32 L173.70,458.33 L174.70,457.39 L175.70,456.49 L176.70,455.63 L177.70,454.80 L178.70,454.01 L179.70,453.24 L180.70,452.48 L181.70,451.73 L182.70,451.00 L183.70,450.28 L184.70,449.58 L185.70,448.91 L186.70,448.27 L187.70,447.67 L188.70,447.11 L189.70,446.57 L190.70,446.04 L191.70,445.51 L192.70,444.98 L193.70,444.43 L194.70,443.88 L195.70,443.35 L196.70,442.84 L197.70,442.37 L198.70,441.92 L199.70,441.50 L200.70,441.10 L201.70,440.73 L202.70,440.38 L203.70,440.07 L204.70,439.78 L205.70,439.51 L206.70,439.26 L207.70,439.03 L208.70,438.81 L209.70,438.61 L210.70,438.42 L211.70,438.25 L212.70,438.09 L213.70,437.94 L214.70,437.79 L215.70,437.66 L216.70,437.53 L217.70,437.41 L218.70,437.29 L219.70,437.18 L220.70,437.07 L221.70,436.97 L222.70,436.88 L223.70,436.80 L224.70,436.73 L225.70,436.66 L226.70,436.59 L227.70,436.54 L228.70,436.48 L229.70,436.44 L230.70,436.39 L231.70,436.35 L232.70,436.31 L233.70,436.28 L234.70,436.24 L235.70,436.21 L236.70,436.18 L237.70,436.15 L238.70,436.13 L239.70,436.10 L240.70,436.07 L241.70,436.05 L242.70,436.03 L243.70,436.00 L244.70,435.98 L245.70,435.96 L246.70,435.94 L247.70,435.92 L248.70,435.90 L249.70,435.88 L250.70,435.86 L251.70,435.84 L252.70,435.83 L253.70,435.82 L254.60,435.81" fill="none" stroke="#1a1a96" stroke-width="2.0" stroke-linejoin="round" stroke-linecap="butt"/>
<path d="M80.70,478.60 L81.70,478.62 L82.70,478.64 L83.70,478.67 L84.70,478.70 L85.70,478.75 L86.70,478.81 L87.70,478.88 L88.70,478.95 L89.70,479.03 L90.70,479.12 L91.70,479.21 L92.70,479.31 L93.70,479.41 L94.70,479.52 L95.70,479.63 L96.70,479.74 L97.70,479.87 L98.70,480.02 L99.70,480.18 L100.70,480.37 L101.70,480.58 L102.70,480.81 L103.70,481.04 L104.70,481.29 L105.70,481.54 L106.70,481.78 L107.70,482.03 L108.70,482.28 L109.70,482.52 L110.70,482.77 L111.70,483.02 L112.70,483.28 L113.70,483.54 L114.70,483.80 L115.70,484.06 L116.70,484.31 L117.70,484.56 L118.70,484.80 L119.70,485.03 L120.70,485.26 L121.70,485.48 L122.70,485.69 L123.70,485.90 L124.70,486.11 L125.70,486.31 L126.70,486.51 L127.70,486.70 L128.70,486.88 L129.70,487.05 L130.70,487.21 L131.70,487.37 L132.70,487.52 L133.70,487.66 L134.70,487.79 L135.70,487.89 L136.70,487.94 L137.70,487.97 L138.70,487.95 L139.70,487.91 L140.70,487.81 L141.70,487.64 L142.70,487.38 L143.70,487.03 L144.70,486.61 L145.70,486.17 L146.70,485.71 L147.70,485.24 L148.70,484.75 L149.70,484.24 L150.70,483.69 L151.70,483.12 L152.70,482.50 L153.70,481.85 L154.70,481.15 L155.70,480.43 L156.70,479.67 L157.70,478.90 L158.70,478.11 L159.70,477.30 L160.70,476.47 L161.70,475.62 L162.70,474.75 L163.70,473.85 L164.70,472.91 L165.70,471.96 L166.70,470.99 L167.70,470.04 L168.70,469.14 L169.70,468.31 L170.70,467.55 L171.70,466.84 L172.70,466.18 L173.70,465.54 L174.70,464.93 L175.70,464.33 L176.70,463.74 L177.70,463.16 L178.70,462.60 L179.70,462.07 L180.70,461.58 L181.70,461.11 L182.70,460.68 L183.70,460.28 L184.70,459.90 L185.70,459.53 L186.70,459.19 L187.70,458.86 L188.70,458.54 L189.70,458.23 L190.70,457.93 L191.70,457.61 L192.70,457.26 L193.70,456.89 L194.70,456.50 L195.70,456.11 L196.70,455.71 L197.70,455.33 L198.70,454.95 L199.70,454.59 L200.70,454.23 L201.70,453.89 L202.70,453.57 L203.70,453.26 L204.70,452.96 L205.70,452.68 L206.70,452.42 L207.70,452.17 L208.70,451.93 L209.70,451.72 L210.70,451.53 L211.70,451.36 L212.70,451.20 L213.70,451.05 L214.70,450.91 L215.70,450.77 L216.70,450.62 L217.70,450.47 L218.70,450.32 L219.70,450.16 L220.70,450.01 L221.70,449.86 L222.70,449.72 L223.70,449.60 L224.70,449.49 L225.70,449.38 L226.70,449.28 L227.70,449.20 L228.70,449.12 L229.70,449.05 L230.70,449.00 L231.70,448.95 L232.70,448.91 L233.70,448.87 L234.70,448.83 L235.70,448.80 L236.70,448.77 L237.70,448.74 L238.70,448.72 L239.70,448.69 L240.70,448.67 L241.70,448.65 L242.70,448.62 L243.70,448.60 L244.70,448.58 L245.70,448.56 L246.70,448.54 L247.70,448.52 L248.70,448.50 L249.70,448.48 L250.70,448.46 L251.70,448.44 L252.70,448.43 L253.70,448.42 L254.60,448.41" fill="none" stroke="#606060" stroke-width="2.0" stroke-linejoin="round" stroke-linecap="butt"/>
<path d="M80.70,478.60 L81.70,478.64 L82.70,478.68 L83.70,478.73 L84.70,478.80 L85.70,478.87 L86.70,478.95 L87.70,479.03 L88.70,479.12 L89.70,479.22 L90.70,479.32 L91.70,479.44 L92.70,479.56 L93.70,479.70 L94.70,479.85 L95.70,480.02 L96.70,480.20 L97.70,480.40 L98.70,480.61 L99.70,480.85 L100.70,481.09 L101.70,481.34 L102.70,481.60 L103.70,481.86 L104.70,482.12 L105.70,482.38 L106.70,482.65 L107.70,482.91 L108.70,483.17 L109.70,483.42 L110.70,483.66 L111.70,483.91 L112.70,484.15 L113.70,484.39 L114.70,484.63 L115.70,484.87 L116.70,485.12 L117.70,485.36 L118.70,485.60 L119.70,485.83 L120.70,486.07 L121.70,486.29 L122.70,486.52 L123.70,486.73 L124.70,486.92 L125.70,487.09 L126.70,487.25 L127.70,487.38 L128.70,487.49 L129.70,487.60 L130.70,487.69 L131.70,487.78 L132.70,487.87 L133.70,487.96 L134.70,488.04 L135.70,488.10 L136.70,488.15 L137.70,488.17 L138.70,488.16 L139.70,488.12 L140.70,488.03 L141.70,487.87 L142.70,487.63 L143.70,487.31 L144.70,486.94 L145.70,486.53 L146.70,486.10 L147.70,485.66 L148.70,485.19 L149.70,484.70 L150.70,484.17 L151.70,483.61 L152.70,483.01 L153.70,482.37 L154.70,481.69 L155.70,480.98 L156.70,480.24 L157.70,479.49 L158.70,478.73 L159.70,477.95 L160.70,477.15 L161.70,476.34 L162.70,475.51 L163.70,474.65 L164.70,473.77 L165.70,472.87 L166.70,471.96 L167.70,471.07 L168.70,470.20 L169.70,469.38 L170.70,468.60 L171.70,467.86 L172.70,467.16 L173.70,466.49 L174.70,465.86 L175.70,465.26 L176.70,464.70 L177.70,464.17 L178.70,463.67 L179.70,463.19 L180.70,462.74 L181.70,462.31 L182.70,461.91 L183.70,461.52 L184.70,461.16 L185.70,460.81 L186.70,460.49 L187.70,460.19 L188.70,459.90 L189.70,459.63 L190.70,459.36 L191.70,459.07 L192.70,458.76 L193.70,458.42 L194.70,458.06 L195.70,457.68 L196.70,457.29 L197.70,456.89 L198.70,456.49 L199.70,456.08 L200.70,455.68 L201.70,455.29 L202.70,454.91 L203.70,454.55 L204.70,454.21 L205.70,453.89 L206.70,453.58 L207.70,453.29 L208.70,453.01 L209.70,452.74 L210.70,452.49 L211.70,452.25 L212.70,452.03 L213.70,451.81 L214.70,451.61 L215.70,451.42 L216.70,451.25 L217.70,451.09 L218.70,450.93 L219.70,450.79 L220.70,450.66 L221.70,450.53 L222.70,450.41 L223.70,450.29 L224.70,450.17 L225.70,450.06 L226.70,449.95 L227.70,449.85 L228.70,449.75 L229.70,449.66 L230.70,449.59 L231.70,449.52 L232.70,449.45 L233.70,449.39 L234.70,449.34 L235.70,449.29 L236.70,449.25 L237.70,449.22 L237.80,449.22" fill="none" stroke="#921e26" stroke-width="2.0" stroke-linejoin="round" stroke-linecap="butt"/>
<path d="M80.70,525.90v-3.0 M80.70,383.77v3.0 M97.19,525.90v-1.8 M97.19,383.77v1.8 M106.84,525.90v-1.8 M106.84,383.77v1.8 M113.68,525.90v-1.8 M113.68,383.77v1.8 M118.99,525.90v-1.8 M118.99,383.77v1.8 M123.33,525.90v-1.8 M123.33,383.77v1.8 M127.00,525.90v-1.8 M127.00,383.77v1.8 M130.18,525.90v-1.8 M130.18,383.77v1.8 M132.98,525.90v-1.8 M132.98,383.77v1.8 M135.48,525.90v-3.0 M135.48,383.77v3.0 M151.98,525.90v-1.8 M151.98,383.77v1.8 M161.62,525.90v-1.8 M161.62,383.77v1.8 M168.47,525.90v-1.8 M168.47,383.77v1.8 M173.78,525.90v-1.8 M173.78,383.77v1.8 M178.11,525.90v-1.8 M178.11,383.77v1.8 M181.78,525.90v-1.8 M181.78,383.77v1.8 M184.96,525.90v-1.8 M184.96,383.77v1.8 M187.76,525.90v-1.8 M187.76,383.77v1.8 M190.27,525.90v-3.0 M190.27,383.77v3.0 M206.76,525.90v-1.8 M206.76,383.77v1.8 M216.41,525.90v-1.8 M216.41,383.77v1.8 M223.25,525.90v-1.8 M223.25,383.77v1.8 M228.56,525.90v-1.8 M228.56,383.77v1.8 M232.90,525.90v-1.8 M232.90,383.77v1.8 M236.57,525.90v-1.8 M236.57,383.77v1.8 M239.74,525.90v-1.8 M239.74,383.77v1.8 M242.55,525.90v-1.8 M242.55,383.77v1.8 M245.05,525.90v-3.0 M245.05,383.77v3.0 M80.70,525.90h3 M254.70,525.90h-3 M80.70,478.52h3 M254.70,478.52h-3 M80.70,431.15h3 M254.70,431.15h-3 M80.70,383.77h3 M254.70,383.77h-3" stroke="#3a3a3a" stroke-width="1" fill="none"/>
<rect x="80.70" y="383.77" width="174.00" height="142.13" fill="none" stroke="#3a3a3a" stroke-width="1.25"/>
<text x="73.00" y="532.50" font-size="18.0" text-anchor="end">-0.02</text>
<text x="73.00" y="485.12" font-size="18.0" text-anchor="end">0</text>
<text x="73.00" y="437.75" font-size="18.0" text-anchor="end">0.02</text>
<text x="73.00" y="390.37" font-size="18.0" text-anchor="end">0.04</text>
<text x="66.78" y="554.70" font-size="18.0" text-anchor="start">10</text>
<text x="84.78" y="546.10" font-size="13.5" text-anchor="start">-1</text>
<text x="123.81" y="554.70" font-size="18.0" text-anchor="start">10</text>
<text x="141.81" y="546.10" font-size="13.5" text-anchor="start">0</text>
<text x="178.59" y="554.70" font-size="18.0" text-anchor="start">10</text>
<text x="196.59" y="546.10" font-size="13.5" text-anchor="start">1</text>
<text x="233.38" y="554.70" font-size="18.0" text-anchor="start">10</text>
<text x="251.38" y="546.10" font-size="13.5" text-anchor="start">2</text>
<rect x="362.10" y="427.40" width="15.90" height="54.40" fill="#ae2a5e"/>
<rect x="362.10" y="481.80" width="15.90" height="8.30" fill="#2391f2"/>
<rect x="416.00" y="446.10" width="15.80" height="41.20" fill="#ae2a5e"/>
<rect x="416.00" y="487.30" width="15.80" height="2.80" fill="#2391f2"/>
<rect x="481.00" y="447.50" width="15.90" height="42.60" fill="#ae2a5e"/>
<path d="M344.00,490.37H517.90" stroke="#3a3a3a" stroke-width="0.9"/>
<path d="M370.20,525.90v-2.5 M370.20,383.77v2.5 M423.60,525.90v-2.5 M423.60,383.77v2.5 M488.90,525.90v-2.5 M488.90,383.77v2.5 M344.00,525.90h2.5 M517.90,525.90h-2.5 M344.00,490.37h2.5 M517.90,490.37h-2.5 M344.00,454.83h2.5 M517.90,454.83h-2.5 M344.00,419.30h2.5 M517.90,419.30h-2.5 M344.00,383.77h2.5 M517.90,383.77h-2.5" stroke="#3a3a3a" stroke-width="1" fill="none"/>
<rect x="344.00" y="383.77" width="173.90" height="142.13" fill="none" stroke="#5a5a5a" stroke-width="1.25"/>
<text x="336.60" y="532.50" font-size="18.0" text-anchor="end">-0.01</text>
<text x="336.60" y="496.97" font-size="18.0" text-anchor="end">0</text>
<text x="336.60" y="461.44" font-size="18.0" text-anchor="end">0.01</text>
<text x="336.60" y="425.90" font-size="18.0" text-anchor="end">0.02</text>
<text x="336.60" y="390.37" font-size="18.0" text-anchor="end">0.03</text>
<text x="370.20" y="549.90" font-size="18.0" text-anchor="middle">180</text>
<text x="423.60" y="549.90" font-size="18.0" text-anchor="middle">550</text>
<text x="488.90" y="549.90" font-size="18.0" text-anchor="middle">1000</text>
<path d="M97.19,565.67V707.90 M106.84,565.67V707.90 M113.68,565.67V707.90 M118.99,565.67V707.90 M123.33,565.67V707.90 M127.00,565.67V707.90 M130.18,565.67V707.90 M132.98,565.67V707.90 M135.48,565.67V707.90 M151.98,565.67V707.90 M161.62,565.67V707.90 M168.47,565.67V707.90 M173.78,565.67V707.90 M178.11,565.67V707.90 M181.78,565.67V707.90 M184.96,565.67V707.90 M187.76,565.67V707.90 M190.27,565.67V707.90 M206.76,565.67V707.90 M216.41,565.67V707.90 M223.25,565.67V707.90 M228.56,565.67V707.90 M232.90,565.67V707.90 M236.57,565.67V707.90 M239.74,565.67V707.90 M242.55,565.67V707.90 M245.05,565.67V707.90 M80.70,672.34H254.70 M80.70,636.78H254.70 M80.70,601.23H254.70" stroke="#e3e3e3" stroke-width="0.9" fill="none"/>
<path d="M80.70,637.00 L81.70,637.00 L82.70,637.00 L83.70,637.00 L84.70,637.00 L85.70,637.00 L86.70,637.00 L87.70,637.00 L88.70,637.00 L89.70,637.00 L90.70,637.00 L91.70,637.00 L92.70,637.00 L93.70,637.00 L94.70,637.00 L95.70,637.00 L96.70,637.01 L97.70,637.03 L98.70,637.07 L99.70,637.13 L100.70,637.21 L101.70,637.32 L102.70,637.44 L103.70,637.59 L104.70,637.77 L105.70,637.96 L106.70,638.17 L107.70,638.41 L108.70,638.67 L109.70,638.96 L110.70,639.28 L111.70,639.62 L112.70,639.98 L113.70,640.38 L114.70,640.80 L115.70,641.25 L116.70,641.73 L117.70,642.21 L118.70,642.72 L119.70,643.23 L120.70,643.77 L121.70,644.33 L122.70,644.90 L123.70,645.50 L124.70,646.12 L125.70,646.75 L126.70,647.41 L127.70,648.10 L128.70,648.82 L129.70,649.58 L130.70,650.39 L131.70,651.26 L132.70,652.20 L133.70,653.21 L134.70,654.29 L135.70,655.43 L136.70,656.63 L137.70,657.88 L138.70,659.20 L139.70,660.57 L140.70,661.97 L141.70,663.40 L142.70,664.81 L143.70,666.20 L144.70,667.55 L145.70,668.85 L146.70,670.08 L147.70,671.22 L148.70,672.23 L149.70,673.10 L150.70,673.85 L151.70,674.50 L152.70,675.09 L153.70,675.63 L154.70,676.12 L155.70,676.54 L156.70,676.90 L157.70,677.19 L158.70,677.37 L159.70,677.44 L160.70,677.40 L161.70,677.25 L162.70,677.04 L163.70,676.75 L164.70,676.40 L165.70,676.00 L166.70,675.55 L167.70,675.05 L168.70,674.51 L169.70,673.92 L170.70,673.29 L171.70,672.64 L172.70,671.99 L173.70,671.38 L174.70,670.79 L175.70,670.23 L176.70,669.68 L177.70,669.12 L178.70,668.54 L179.70,667.95 L180.70,667.34 L181.70,666.73 L182.70,666.10 L183.70,665.44 L184.70,664.78 L185.70,664.09 L186.70,663.39 L187.70,662.68 L188.70,661.97 L189.70,661.27 L190.70,660.58 L191.70,659.91 L192.70,659.25 L193.70,658.58 L194.70,657.89 L195.70,657.16 L196.70,656.37 L197.70,655.50 L198.70,654.56 L199.70,653.55 L200.70,652.51 L201.70,651.46 L202.70,650.44 L203.70,649.46 L204.70,648.52 L205.70,647.63 L206.70,646.77 L207.70,645.95 L208.70,645.17 L209.70,644.40 L210.70,643.66 L211.70,642.94 L212.70,642.23 L213.70,641.52 L214.70,640.82 L215.70,640.12 L216.70,639.43 L217.70,638.75 L218.70,638.09 L219.70,637.45 L220.70,636.85 L221.70,636.28 L222.70,635.75 L223.70,635.24 L224.70,634.75 L225.70,634.27 L226.70,633.79 L227.70,633.32 L228.70,632.86 L229.70,632.42 L230.70,631.99 L231.70,631.59 L232.70,631.22 L233.70,630.88 L234.70,630.56 L235.70,630.26 L236.70,629.98 L237.70,629.71 L238.70,629.46 L239.70,629.23 L240.70,629.00 L241.70,628.80 L242.70,628.60 L243.70,628.41 L244.70,628.22 L245.70,628.03 L246.70,627.84 L247.70,627.65 L248.70,627.45 L249.70,627.26 L250.70,627.07 L251.70,626.88 L252.70,626.69 L253.70,626.53 L254.70,626.41" fill="none" stroke="#1a1a96" stroke-width="2.0" stroke-linejoin="round" stroke-linecap="butt"/>
<path d="M80.70,637.10 L81.70,637.22 L82.70,637.30 L83.70,637.41 L84.70,637.53 L85.70,637.65 L86.70,637.79 L87.70,637.93 L88.70,638.09 L89.70,638.25 L90.70,638.42 L91.70,638.61 L92.70,638.81 L93.70,639.02 L94.70,639.23 L95.70,639.46 L96.70,639.69 L97.70,639.92 L98.70,640.17 L99.70,640.42 L100.70,640.70 L101.70,640.99 L102.70,641.31 L103.70,641.65 L104.70,642.02 L105.70,642.41 L106.70,642.82 L107.70,643.27 L108.70,643.75 L109.70,644.25 L110.70,644.76 L111.70,645.29 L112.70,645.82 L113.70,646.35 L114.70,646.89 L115.70,647.42 L116.70,647.95 L117.70,648.47 L118.70,648.98 L119.70,649.46 L120.70,649.94 L121.70,650.40 L122.70,650.87 L123.70,651.36 L124.70,651.86 L125.70,652.38 L126.70,652.94 L127.70,653.52 L128.70,654.13 L129.70,654.75 L130.70,655.39 L131.70,656.04 L132.70,656.70 L133.70,657.37 L134.70,658.06 L135.70,658.76 L136.70,659.48 L137.70,660.23 L138.70,661.00 L139.70,661.79 L140.70,662.60 L141.70,663.43 L142.70,664.28 L143.70,665.13 L144.70,665.95 L145.70,666.71 L146.70,667.41 L147.70,668.06 L148.70,668.67 L149.70,669.25 L150.70,669.79 L151.70,670.29 L152.70,670.75 L153.70,671.16 L154.70,671.50 L155.70,671.77 L156.70,671.95 L157.70,672.07 L158.70,672.15 L159.70,672.21 L160.70,672.25 L161.70,672.25 L162.70,672.21 L163.70,672.12 L164.70,671.97 L165.70,671.77 L166.70,671.54 L167.70,671.29 L168.70,671.02 L169.70,670.74 L170.70,670.43 L171.70,670.09 L172.70,669.73 L173.70,669.34 L174.70,668.92 L175.70,668.47 L176.70,667.99 L177.70,667.51 L178.70,667.02 L179.70,666.51 L180.70,666.00 L181.70,665.47 L182.70,664.92 L183.70,664.36 L184.70,663.76 L185.70,663.15 L186.70,662.51 L187.70,661.86 L188.70,661.20 L189.70,660.54 L190.70,659.87 L191.70,659.21 L192.70,658.54 L193.70,657.86 L194.70,657.15 L195.70,656.39 L196.70,655.57 L197.70,654.66 L198.70,653.68 L199.70,652.63 L200.70,651.55 L201.70,650.48 L202.70,649.47 L203.70,648.53 L204.70,647.66 L205.70,646.80 L206.70,645.88 L207.70,644.83 L208.70,643.62 L209.70,642.27 L210.70,640.83 L211.70,639.36 L212.70,637.93 L213.70,636.59 L214.70,635.35 L215.70,634.21 L216.70,633.14 L217.70,632.14 L218.70,631.20 L219.70,630.33 L220.70,629.51 L221.70,628.75 L222.70,628.02 L223.70,627.31 L224.70,626.58 L225.70,625.83 L226.70,625.07 L227.70,624.31 L228.70,623.59 L229.70,622.91 L230.70,622.27 L231.70,621.64 L232.70,621.03 L233.70,620.41 L234.70,619.80 L235.70,619.19 L236.70,618.60 L237.70,618.02 L238.70,617.45 L239.70,616.90 L240.70,616.37 L241.70,615.85 L242.70,615.34 L243.70,614.85 L244.70,614.38 L245.70,613.93 L246.70,613.49 L247.70,613.07 L248.70,612.66 L249.70,612.27 L250.70,611.89 L251.70,611.53 L252.70,611.19 L253.70,610.90 L254.70,610.69" fill="none" stroke="#606060" stroke-width="2.0" stroke-linejoin="round" stroke-linecap="butt"/>
<path d="M80.70,637.30 L81.70,637.46 L82.70,637.57 L83.70,637.71 L84.70,637.86 L85.70,638.02 L86.70,638.19 L87.70,638.37 L88.70,638.56 L89.70,638.75 L90.70,638.96 L91.70,639.18 L92.70,639.41 L93.70,639.66 L94.70,639.92 L95.70,640.19 L96.70,640.47 L97.70,640.78 L98.70,641.09 L99.70,641.42 L100.70,641.76 L101.70,642.10 L102.70,642.44 L103.70,642.78 L104.70,643.14 L105.70,643.52 L106.70,643.93 L107.70,644.37 L108.70,644.84 L109.70,645.34 L110.70,645.86 L111.70,646.39 L112.70,646.93 L113.70,647.47 L114.70,648.02 L115.70,648.58 L116.70,649.13 L117.70,649.67 L118.70,650.19 L119.70,650.70 L120.70,651.20 L121.70,651.69 L122.70,652.18 L123.70,652.66 L124.70,653.16 L125.70,653.66 L126.70,654.16 L127.70,654.67 L128.70,655.19 L129.70,655.72 L130.70,656.27 L131.70,656.85 L132.70,657.46 L133.70,658.09 L134.70,658.74 L135.70,659.42 L136.70,660.11 L137.70,660.82 L138.70,661.55 L139.70,662.29 L140.70,663.03 L141.70,663.73 L142.70,664.38 L143.70,664.96 L144.70,665.49 L145.70,665.97 L146.70,666.43 L147.70,666.88 L148.70,667.32 L149.70,667.77 L150.70,668.21 L151.70,668.64 L152.70,669.05 L153.70,669.43 L154.70,669.76 L155.70,670.04 L156.70,670.27 L157.70,670.44 L158.70,670.56 L159.70,670.63 L160.70,670.63 L161.70,670.59 L162.70,670.49 L163.70,670.33 L164.70,670.12 L165.70,669.85 L166.70,669.54 L167.70,669.21 L168.70,668.85 L169.70,668.45 L170.70,668.02 L171.70,667.56 L172.70,667.08 L173.70,666.59 L174.70,666.07 L175.70,665.55 L176.70,665.01 L177.70,664.46 L178.70,663.91 L179.70,663.36 L180.70,662.80 L181.70,662.23 L182.70,661.66 L183.70,661.08 L184.70,660.49 L185.70,659.89 L186.70,659.28 L187.70,658.65 L188.70,658.00 L189.70,657.32 L190.70,656.60 L191.70,655.86 L192.70,655.08 L193.70,654.26 L194.70,653.40 L195.70,652.49 L196.70,651.52 L197.70,650.47 L198.70,649.33 L199.70,648.10 L200.70,646.82 L201.70,645.50 L202.70,644.21 L203.70,642.96 L204.70,641.74 L205.70,640.54 L206.70,639.29 L207.70,637.97 L208.70,636.56 L209.70,635.07 L210.70,633.52 L211.70,631.94 L212.70,630.35 L213.70,628.77 L214.70,627.19 L215.70,625.63 L216.70,624.08 L217.70,622.53 L218.70,620.98 L219.70,619.43 L220.70,617.89 L221.70,616.35 L222.70,614.82 L223.70,613.28 L224.70,611.75 L225.70,610.21 L226.70,608.66 L227.70,607.10 L228.70,605.55 L229.70,604.00 L230.70,602.46 L231.70,600.92 L232.70,599.38 L233.70,597.84 L234.70,596.32 L235.70,594.84 L236.70,593.52 L237.70,592.48 L237.90,592.11" fill="none" stroke="#921e26" stroke-width="2.0" stroke-linejoin="round" stroke-linecap="butt"/>
<path d="M80.70,707.90v-3.0 M80.70,565.67v3.0 M97.19,707.90v-1.8 M97.19,565.67v1.8 M106.84,707.90v-1.8 M106.84,565.67v1.8 M113.68,707.90v-1.8 M113.68,565.67v1.8 M118.99,707.90v-1.8 M118.99,565.67v1.8 M123.33,707.90v-1.8 M123.33,565.67v1.8 M127.00,707.90v-1.8 M127.00,565.67v1.8 M130.18,707.90v-1.8 M130.18,565.67v1.8 M132.98,707.90v-1.8 M132.98,565.67v1.8 M135.48,707.90v-3.0 M135.48,565.67v3.0 M151.98,707.90v-1.8 M151.98,565.67v1.8 M161.62,707.90v-1.8 M161.62,565.67v1.8 M168.47,707.90v-1.8 M168.47,565.67v1.8 M173.78,707.90v-1.8 M173.78,565.67v1.8 M178.11,707.90v-1.8 M178.11,565.67v1.8 M181.78,707.90v-1.8 M181.78,565.67v1.8 M184.96,707.90v-1.8 M184.96,565.67v1.8 M187.76,707.90v-1.8 M187.76,565.67v1.8 M190.27,707.90v-3.0 M190.27,565.67v3.0 M206.76,707.90v-1.8 M206.76,565.67v1.8 M216.41,707.90v-1.8 M216.41,565.67v1.8 M223.25,707.90v-1.8 M223.25,565.67v1.8 M228.56,707.90v-1.8 M228.56,565.67v1.8 M232.90,707.90v-1.8 M232.90,565.67v1.8 M236.57,707.90v-1.8 M236.57,565.67v1.8 M239.74,707.90v-1.8 M239.74,565.67v1.8 M242.55,707.90v-1.8 M242.55,565.67v1.8 M245.05,707.90v-3.0 M245.05,565.67v3.0 M80.70,707.90h3 M254.70,707.90h-3 M80.70,672.34h3 M254.70,672.34h-3 M80.70,636.78h3 M254.70,636.78h-3 M80.70,601.23h3 M254.70,601.23h-3 M80.70,565.67h3 M254.70,565.67h-3" stroke="#3a3a3a" stroke-width="1" fill="none"/>
<rect x="80.70" y="565.67" width="174.00" height="142.23" fill="none" stroke="#3a3a3a" stroke-width="1.25"/>
<text x="73.00" y="714.50" font-size="18.0" text-anchor="end">-0.04</text>
<text x="73.00" y="678.94" font-size="18.0" text-anchor="end">-0.02</text>
<text x="73.00" y="643.38" font-size="18.0" text-anchor="end">0</text>
<text x="73.00" y="607.83" font-size="18.0" text-anchor="end">0.02</text>
<text x="73.00" y="572.27" font-size="18.0" text-anchor="end">0.04</text>
<text x="66.78" y="736.70" font-size="18.0" text-anchor="start">10</text>
<text x="84.78" y="728.10" font-size="13.5" text-anchor="start">-1</text>
<text x="123.81" y="736.70" font-size="18.0" text-anchor="start">10</text>
<text x="141.81" y="728.10" font-size="13.5" text-anchor="start">0</text>
<text x="178.59" y="736.70" font-size="18.0" text-anchor="start">10</text>
<text x="196.59" y="728.10" font-size="13.5" text-anchor="start">1</text>
<text x="233.38" y="736.70" font-size="18.0" text-anchor="start">10</text>
<text x="251.38" y="728.10" font-size="13.5" text-anchor="start">2</text>
<rect x="362.10" y="617.80" width="15.90" height="42.50" fill="#ae2a5e"/>
<rect x="362.10" y="660.30" width="15.90" height="36.20" fill="#2391f2"/>
<rect x="416.00" y="611.20" width="15.80" height="49.10" fill="#ae2a5e"/>
<rect x="416.00" y="660.30" width="15.80" height="31.90" fill="#2391f2"/>
<rect x="481.00" y="589.40" width="15.90" height="70.90" fill="#ae2a5e"/>
<rect x="481.00" y="660.30" width="15.90" height="30.20" fill="#2391f2"/>
<path d="M344.00,660.49H517.90" stroke="#3a3a3a" stroke-width="0.9"/>
<path d="M370.20,707.90v-2.5 M370.20,565.67v2.5 M423.60,707.90v-2.5 M423.60,565.67v2.5 M488.90,707.90v-2.5 M488.90,565.67v2.5 M344.00,707.90h2.5 M517.90,707.90h-2.5 M344.00,660.49h2.5 M517.90,660.49h-2.5 M344.00,613.08h2.5 M517.90,613.08h-2.5 M344.00,565.67h2.5 M517.90,565.67h-2.5" stroke="#3a3a3a" stroke-width="1" fill="none"/>
<rect x="344.00" y="565.67" width="173.90" height="142.23" fill="none" stroke="#5a5a5a" stroke-width="1.25"/>
<text x="336.60" y="714.50" font-size="18.0" text-anchor="end">-0.03</text>
<text x="336.60" y="667.09" font-size="18.0" text-anchor="end">0</text>
<text x="336.60" y="619.68" font-size="18.0" text-anchor="end">0.03</text>
<text x="336.60" y="572.27" font-size="18.0" text-anchor="end">0.06</text>
<text x="370.20" y="731.90" font-size="18.0" text-anchor="middle">180</text>
<text x="423.60" y="731.90" font-size="18.0" text-anchor="middle">550</text>
<text x="488.90" y="731.90" font-size="18.0" text-anchor="middle">1000</text>
<text x="9.60" y="26.77" font-size="18.0" text-anchor="start">(a)</text>
<text x="9.60" y="208.77" font-size="18.0" text-anchor="start">(b)</text>
<text x="9.60" y="390.67" font-size="18.0" text-anchor="start">(c)</text>
<text x="9.60" y="572.57" font-size="18.0" text-anchor="start">(d)</text>
<text x="236.80" y="14.90" font-size="18.0" text-anchor="middle">(i)</text>
<text x="493.00" y="16.20" font-size="18.0" text-anchor="middle">(ii)</text>
<rect x="91.4" y="26.2" width="101.4" height="63.9" fill="#fff" stroke="#3a3a3a" stroke-width="1"/>
<path d="M96,38.20H131" stroke="#1a1a96" stroke-width="2.0"/>
<text x="137.80" y="39.80" font-size="12.6" text-anchor="start" font-style="italic">Re</text>
<text x="151.30" y="46.40" font-size="10" text-anchor="start" font-style="italic">&#964;</text>
<text x="155.20" y="39.80" font-size="12.6" text-anchor="start">=180</text>
<path d="M96,58.15H131" stroke="#606060" stroke-width="2.0"/>
<text x="137.80" y="59.40" font-size="12.6" text-anchor="start" font-style="italic">Re</text>
<text x="151.30" y="66.00" font-size="10" text-anchor="start" font-style="italic">&#964;</text>
<text x="155.20" y="59.40" font-size="12.6" text-anchor="start">=550</text>
<path d="M96,78.10H131" stroke="#921e26" stroke-width="2.0"/>
<text x="137.80" y="79.00" font-size="12.6" text-anchor="start" font-style="italic">Re</text>
<text x="151.30" y="85.60" font-size="10" text-anchor="start" font-style="italic">&#964;</text>
<text x="155.20" y="79.00" font-size="12.6" text-anchor="start">=1000</text>
<rect x="356.9" y="31.0" width="35.0" height="14.4" fill="#2391f2"/>
<rect x="356.9" y="51.2" width="35.0" height="14.6" fill="#ae2a5e"/>
<text x="396.00" y="40.30" font-size="13.5" text-anchor="start" font-style="italic">&#955;</text>
<text x="402.30" y="47.10" font-size="9.5" text-anchor="start" font-style="italic">x</text>
<text x="407.30" y="40.30" font-size="12" text-anchor="start">&lt;</text>
<text x="413.20" y="40.30" font-size="12.5" text-anchor="start">3</text>
<text x="419.60" y="40.30" font-size="13.5" text-anchor="start" font-style="italic">h</text>
<text x="396.00" y="60.00" font-size="13.5" text-anchor="start" font-style="italic">&#955;</text>
<text x="402.30" y="66.80" font-size="9.5" text-anchor="start" font-style="italic">x</text>
<text x="407.30" y="60.00" font-size="12" text-anchor="start">&gt;</text>
<text x="413.20" y="60.00" font-size="12.5" text-anchor="start">3</text>
<text x="419.60" y="60.00" font-size="13.5" text-anchor="start" font-style="italic">h</text>
<g transform="translate(18.4,137.20) rotate(-90)">
<text x="0.00" y="0.00" font-size="18" text-anchor="start" font-style="italic">Cum</text>
<text x="35.70" y="-8.60" font-size="12" text-anchor="start">+</text>
<text x="36.1" y="8.8" font-size="13" textLength="29.50" lengthAdjust="spacingAndGlyphs">&#916;<tspan font-style="italic">E,u</tspan></text>
<text x="65.70" y="0.00" font-size="18" text-anchor="start">(</text>
<text x="73.30" y="0" font-size="18" font-style="italic" textLength="9.6" lengthAdjust="spacingAndGlyphs">&#955;</text>
<text x="84.80" y="8.80" font-size="13" text-anchor="start" font-style="italic">x</text>
<text x="89.30" y="0.00" font-size="18" text-anchor="start">)</text>
</g>
<g transform="translate(18.4,319.20) rotate(-90)">
<text x="0.00" y="0.00" font-size="18" text-anchor="start" font-style="italic">Cum</text>
<text x="35.70" y="-8.60" font-size="12" text-anchor="start">+</text>
<text x="36.1" y="8.8" font-size="13" textLength="28.70" lengthAdjust="spacingAndGlyphs">&#916;<tspan font-style="italic">E,v</tspan></text>
<text x="64.97" y="0.00" font-size="18" text-anchor="start">(</text>
<text x="72.57" y="0" font-size="18" font-style="italic" textLength="9.6" lengthAdjust="spacingAndGlyphs">&#955;</text>
<text x="84.07" y="8.80" font-size="13" text-anchor="start" font-style="italic">x</text>
<text x="88.57" y="0.00" font-size="18" text-anchor="start">)</text>
</g>
<g transform="translate(18.4,501.10) rotate(-90)">
<text x="0.00" y="0.00" font-size="18" text-anchor="start" font-style="italic">Cum</text>
<text x="35.70" y="-8.60" font-size="12" text-anchor="start">+</text>
<text x="36.1" y="8.8" font-size="13" textLength="31.89" lengthAdjust="spacingAndGlyphs">&#916;<tspan font-style="italic">E,w</tspan></text>
<text x="67.87" y="0.00" font-size="18" text-anchor="start">(</text>
<text x="75.47" y="0" font-size="18" font-style="italic" textLength="9.6" lengthAdjust="spacingAndGlyphs">&#955;</text>
<text x="86.97" y="8.80" font-size="13" text-anchor="start" font-style="italic">x</text>
<text x="91.47" y="0.00" font-size="18" text-anchor="start">)</text>
</g>
<g transform="translate(18.4,683.00) rotate(-90)">
<text x="0.00" y="0.00" font-size="18" text-anchor="start" font-style="italic">Cum</text>
<text x="35.70" y="-8.60" font-size="12" text-anchor="start">+</text>
<text x="36.1" y="8.8" font-size="13" textLength="30.30" lengthAdjust="spacingAndGlyphs">&#916;<tspan font-style="italic">E,T</tspan></text>
<text x="66.43" y="0.00" font-size="18" text-anchor="start">(</text>
<text x="74.03" y="0" font-size="18" font-style="italic" textLength="9.6" lengthAdjust="spacingAndGlyphs">&#955;</text>
<text x="85.53" y="8.80" font-size="13" text-anchor="start" font-style="italic">x</text>
<text x="90.03" y="0.00" font-size="18" text-anchor="start">)</text>
</g>
<g transform="translate(280.9,118.85) rotate(-90)">
<text x="0.00" y="0.00" font-size="17" text-anchor="start" font-style="italic">Con</text>
<text x="31.65" y="-8.80" font-size="12" text-anchor="start">+</text>
<text x="31.15" y="9.3" font-size="13" textLength="29.80" lengthAdjust="spacingAndGlyphs">&#916;<tspan font-style="italic">E,u</tspan></text>
</g>
<g transform="translate(280.9,300.85) rotate(-90)">
<text x="0.00" y="0.00" font-size="17" text-anchor="start" font-style="italic">Con</text>
<text x="31.65" y="-8.80" font-size="12" text-anchor="start">+</text>
<text x="31.15" y="9.3" font-size="13" textLength="29.00" lengthAdjust="spacingAndGlyphs">&#916;<tspan font-style="italic">E,v</tspan></text>
</g>
<g transform="translate(280.9,484.05) rotate(-90)">
<text x="0.00" y="0.00" font-size="17" text-anchor="start" font-style="italic">Con</text>
<text x="31.65" y="-8.80" font-size="12" text-anchor="start">+</text>
<text x="31.15" y="9.3" font-size="13" textLength="32.19" lengthAdjust="spacingAndGlyphs">&#916;<tspan font-style="italic">E,w</tspan></text>
</g>
<g transform="translate(280.9,665.08) rotate(-90)">
<text x="0.00" y="0.00" font-size="17" text-anchor="start" font-style="italic">Con</text>
<text x="31.65" y="-8.80" font-size="12" text-anchor="start">+</text>
<text x="31.15" y="9.3" font-size="13" textLength="30.60" lengthAdjust="spacingAndGlyphs">&#916;<tspan font-style="italic">E,T</tspan></text>
</g>
<text x="152.6" y="758.5" font-size="18" font-style="italic" textLength="9.6" lengthAdjust="spacingAndGlyphs">&#955;</text>
<text x="162.20" y="767.90" font-size="12.5" text-anchor="start" font-style="italic">x</text>
<text x="168.60" y="758.50" font-size="18" text-anchor="start" font-style="italic">/h</text>
<text x="418.60" y="753.80" font-size="18" text-anchor="start" font-style="italic">Re</text>
<text x="439.00" y="763.00" font-size="12.5" text-anchor="start" font-style="italic">&#964;</text>
</svg>
</body></html>
